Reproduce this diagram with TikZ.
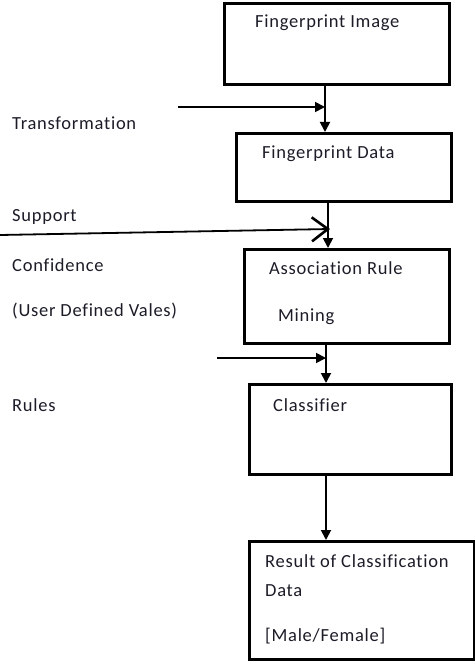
\documentclass[tikz,border=0pt]{standalone}
\usepackage{fontspec}
\setmainfont[Ligatures=NoCommon,LetterSpace=4]{Carlito}
\usetikzlibrary{arrows.meta,calc}
\definecolor{ink}{HTML}{1C1C28}
\begin{document}
\begin{tikzpicture}[x=1pt,y=-1pt,
  box/.style={draw=black,line width=3pt,inner sep=0pt,anchor=north west},
  lbl/.style={font=\fontsize{18.5}{20}\selectfont,text=ink,inner sep=0pt,anchor=base west},
  arr/.style={line width=1.8pt,-{Triangle[length=10pt,width=10pt]}},
  bar/.style={line width=1.8pt}]
\useasboundingbox (0,0) rectangle (474,668);
% boxes
\node[box,minimum width=225pt,minimum height=81pt] (b1) at (223,2) {};
\node[box,minimum width=215pt,minimum height=68pt] (b2) at (235,132) {};
\node[box,minimum width=205pt,minimum height=94pt] (b3) at (243,248) {};
\node[box,minimum width=202pt,minimum height=90pt] (b4) at (248,383) {};
\node[box,minimum width=225pt,minimum height=118pt] (b5) at (248,540) {};
% box texts
\node[lbl] (t1) at (255,28) {Fingerprint Image};
\node[lbl] (t2) at (262,159) {Fingerprint Data};
\node[lbl] (t3a) at (269,274) {Association Rule};
\node[lbl] (t3b) at (278,321) {Mining};
\node[lbl] (t4) at (273,411) {Classifier};
\node[lbl] (t5a) at (265,567) {Result of Classification};
\node[lbl] (t5b) at (265,596) {Data};
\node[lbl] (t5c) at (265,641) {[Male/Female]};
% side labels
\node[lbl] (s1) at (12,130) {Transformation};
\node[lbl] (s2) at (12,222) {Support};
\node[lbl] (s3) at (12,271) {Confidence};
\node[lbl] (s4) at (12,316) {(User Defined Vales)};
\node[lbl] (s5) at (12,411) {Rules};
% arrow x positions
\coordinate (x1) at (325,0);
\coordinate (x2) at (328,0);
\coordinate (x3) at (326,0);
\coordinate (x4) at (326,0);
% vertical arrows
\draw[arr] (b1.south -| x1) -- (b2.north -| x1);
\draw[arr] (b2.south -| x2) -- (b3.north -| x2);
\draw[arr] (b3.south -| x3) -- (b4.north -| x3);
\draw[arr] (b4.south -| x4) -- (b5.north -| x4);
% side inputs
\coordinate (i1) at (178,107);
\coordinate (j1) at (325,107);
\draw[arr] (i1) -- (j1);
\coordinate (i2) at (0,235);
\coordinate (j2) at (330,229);
\draw[bar,-{Straight Barb[length=16pt,width=24pt,line width=2.6pt]}] (i2) -- (j2);
\coordinate (i3) at (217,358);
\coordinate (j3) at (326,358);
\draw[arr] (i3) -- (j3);
\end{tikzpicture}
\end{document}
